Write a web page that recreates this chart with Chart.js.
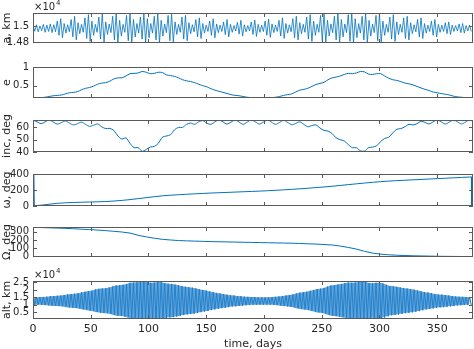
<!DOCTYPE html>
<html>
<head>
<meta charset="utf-8">
<script src="https://cdn.jsdelivr.net/npm/chart.js@4.4.1/dist/chart.umd.min.js"></script>
<style>
  html, body { margin: 0; padding: 0; background: #fff; }
  #wrap { position: relative; width: 474px; height: 349px; }
  #wrap canvas { position: absolute; left: 0; }
</style>
</head>
<body>
<div id="wrap"></div>
<script>
// time axis
const DAY_MAX = 381;
const dayTicks = [0, 50, 100, 150, 200, 250, 300, 350];

// semi-major axis, km: one peak and one trough per 3-day cycle
const CYCLE = 3;
const aHigh = [
  15005, 15015, 15000, 15020, 15010, 15025, 15015,
  15060, 15090, 15030, 15015, 15080, 15120, 15040,
  15020, 15100, 15140, 15060, 15020, 15110, 15150,
  15050, 15025, 15120, 15155, 15070, 15020, 15130,
  15155, 15080, 15030, 15110, 15150, 15090, 15030,
  15120, 15155, 15070, 15025, 15130, 15145, 15050,
  15020, 15110, 15130, 15040, 15015, 15080, 15100,
  15030, 15010, 15060, 15090, 15025, 15010, 15050,
  15080, 15020, 15005, 15045, 15070, 15015, 15005,
  15050, 15075, 15020, 15010, 15060, 15085, 15025,
  15010, 15070, 15100, 15030, 15015, 15090, 15120,
  15040, 15020, 15110, 15140, 15060, 15020, 15130,
  15155, 15070, 15025, 15120, 15155, 15080, 15025,
  15140, 15155, 15090, 15030, 15120, 15155, 15070,
  15025, 15130, 15150, 15060, 15020, 15110, 15140,
  15050, 15020, 15100, 15120, 15040, 15015, 15080,
  15100, 15030, 15010, 15060, 15080, 15020, 15010,
  15040, 15050, 15010, 15005, 15025, 15030, 15005,
  15010
];
const aLow = [
  14935, 14928, 14942, 14922, 14932, 14918, 14928,
  14885, 14855, 14912, 14928, 14865, 14828, 14905,
  14922, 14846, 14810, 14885, 14922, 14838, 14800,
  14895, 14918, 14828, 14795, 14875, 14922, 14818,
  14795, 14865, 14912, 14838, 14800, 14855, 14912,
  14828, 14795, 14875, 14918, 14818, 14805, 14895,
  14922, 14838, 14818, 14905, 14928, 14865, 14846,
  14912, 14932, 14885, 14855, 14918, 14932, 14895,
  14865, 14922, 14938, 14900, 14875, 14928, 14938,
  14895, 14870, 14922, 14932, 14885, 14860, 14918,
  14932, 14875, 14846, 14912, 14928, 14855, 14828,
  14905, 14922, 14838, 14810, 14885, 14922, 14818,
  14795, 14875, 14918, 14828, 14795, 14865, 14918,
  14810, 14795, 14855, 14912, 14828, 14795, 14875,
  14918, 14818, 14800, 14885, 14922, 14838, 14810,
  14895, 14922, 14846, 14828, 14905, 14928, 14865,
  14846, 14912, 14932, 14885, 14865, 14922, 14932,
  14905, 14895, 14932, 14938, 14918, 14912, 14938,
  14932
];

// eccentricity and inclination, sampled every 3.5 days
const SAMPLE_STEP = 3.5;
const ecc = [
  0.18, 0.18, 0.18, 0.19, 0.21, 0.23, 0.24, 0.25, 0.28, 0.31,
  0.32, 0.34, 0.39, 0.43, 0.45, 0.49, 0.54, 0.57, 0.58, 0.62,
  0.68, 0.71, 0.71, 0.76, 0.82, 0.83, 0.84, 0.88, 0.86, 0.82,
  0.83, 0.86, 0.85, 0.79, 0.77, 0.75, 0.71, 0.66, 0.63, 0.61,
  0.58, 0.54, 0.50, 0.47, 0.42, 0.38, 0.35, 0.32, 0.29, 0.26,
  0.24, 0.23, 0.21, 0.19, 0.18, 0.18, 0.17, 0.17, 0.17, 0.18,
  0.19, 0.21, 0.24, 0.26, 0.28, 0.33, 0.38, 0.40, 0.43, 0.48,
  0.53, 0.56, 0.59, 0.66, 0.71, 0.73, 0.76, 0.80, 0.83, 0.82,
  0.84, 0.88, 0.87, 0.81, 0.80, 0.82, 0.82, 0.76, 0.70, 0.66,
  0.64, 0.61, 0.57, 0.55, 0.52, 0.48, 0.44, 0.40, 0.37, 0.33,
  0.31, 0.29, 0.27, 0.25, 0.22, 0.20, 0.19, 0.18, 0.18, 0.19
];
const inc = [
  66, 64.5, 63, 64.5, 66, 64.3, 62.7, 63.8, 65.2, 63.5,
  62, 63, 64.3, 62.5, 60.8, 61.8, 62.8, 60.5, 59, 59.2,
  57.5, 53, 50.5, 51.5, 47, 43.5, 43.6, 40.6, 42, 44,
  44.5, 47, 52, 53, 54, 58, 60, 60, 62.5, 63.5,
  62.5, 64.5, 65.5, 63.5, 62.5, 64.5, 66, 64.5, 62.7, 64.3,
  66, 64.3, 62.5, 64.3, 66, 64.5, 62.7, 64.3, 66, 64.3,
  62.5, 64, 65.8, 64, 62.2, 63.2, 64.5, 62.5, 60.5, 61.5,
  62, 59.5, 57.5, 57, 55, 51.5, 50, 49, 46, 43.5,
  43.5, 41, 40.8, 43.5, 44, 45, 48.5, 51, 52, 55.5,
  58.5, 59, 60.5, 62.5, 62, 63, 65, 64, 62.8, 64.5,
  66, 64.5, 62.7, 64.3, 66, 64.5, 62.8, 64.3, 66, 64.5
];

// argument of perigee, deg (wraps at both ends)
const omegaDays = [0.8, 1.1, 7, 14, 21, 28, 35, 42, 49, 56, 63, 70, 77, 84, 91, 98, 105, 112,
  119, 126, 133, 140, 147, 154, 161, 168, 175, 182, 189, 196, 203, 210, 217, 224, 231,
  238, 245, 252, 259, 266, 273, 280, 287, 294, 301, 308, 315, 322, 329, 336, 343, 350,
  357, 364, 371, 378, 379.6, 379.8];
const omegaVals = [390, 4, 10, 22, 33, 40, 44, 47, 50, 52, 56, 62, 70, 80, 92, 104, 116, 127,
  135, 141, 147, 152, 157, 162, 166, 170, 174, 178, 182, 186, 191, 196, 202, 208, 215,
  222, 230, 238, 247, 257, 267, 277, 287, 296, 304, 311, 317, 322, 327, 332, 337, 342,
  347, 352, 357, 362, 364, 0];

// right ascension of ascending node, deg
const raanDays = [0, 7, 14, 21, 28, 35, 42, 49, 56, 63, 70, 77, 84, 91, 98, 105, 112, 119,
  126, 133, 140, 147, 154, 161, 168, 175, 182, 189, 196, 203, 210, 217, 224, 231, 238,
  245, 252, 259, 266, 273, 280, 287, 294, 301, 308, 315, 322, 329, 336, 343, 350, 357,
  364, 371, 378, 381];
const raanVals = [355, 353, 350, 347, 343, 339, 333, 328, 322, 315, 307, 298, 285, 258, 238,
  222, 208, 200, 193, 189, 186, 183, 180, 178, 176, 174, 172, 170, 168, 166, 164, 162,
  160, 157, 153, 149, 144, 138, 125, 108, 88, 60, 38, 25, 17, 12, 8, 5, 3, 1, -1, -2,
  -3, -4, -5, -5];

// altitude, km: one apogee and one perigee per 3-day cycle
const altHigh = [
  15200, 15150, 15220, 15330, 15480, 15800, 15930, 16100, 16230, 16550,
  17000, 17280, 17450, 17730, 18350, 18780, 19250, 19530, 20300, 20730,
  21050, 21180, 21650, 22380, 23000, 23130, 23450, 24030, 24800, 24930,
  25100, 25380, 25550, 25080, 24800, 24930, 25400, 25230, 24650, 24180,
  24050, 23580, 23150, 22530, 22100, 21780, 21500, 21030, 20450, 19980,
  19550, 18930, 18500, 18030, 17600, 17280, 16850, 16380, 16250, 15930,
  15800, 15480, 15350, 15180, 15200, 15030, 15050, 15030, 15050, 15180,
  15350, 15630, 15950, 16230, 16550, 16980, 17600, 18180, 18500, 18780,
  19400, 19980, 20600, 20880, 21350, 22230, 23000, 23280, 23600, 24030,
  24500, 24930, 24800, 24930, 25400, 25680, 25400, 24630, 24500, 24780,
  24800, 24330, 23450, 22680, 22400, 22080, 21650, 21180, 20900, 20580,
  20150, 19680, 19100, 18480, 18200, 17730, 17300, 16980, 16850, 16530,
  16250, 15930, 15650, 15480, 15350, 15180, 15200
];
const altLow = [
  9980, 10020, 9980, 9860, 9700, 9440, 9280, 9160, 9000, 8740,
  8300, 8040, 7880, 7620, 7040, 6640, 6200, 5940, 5220, 4820,
  4520, 4400, 3960, 3280, 2700, 2580, 2280, 1740, 1020, 900,
  740, 620, 600, 760, 1020, 900, 600, 620, 1160, 1600,
  1720, 2160, 2560, 3140, 3540, 3840, 4100, 4540, 5080, 5520,
  5920, 6500, 6900, 7340, 7740, 8040, 8440, 8880, 9000, 9300,
  9420, 9720, 9840, 10000, 9980, 10140, 10120, 10140, 10120, 9980,
  9840, 9580, 9280, 9020, 8720, 8320, 7740, 7200, 6900, 6640,
  6060, 5520, 4940, 4680, 4240, 3420, 2700, 2440, 2140, 1740,
  1300, 900, 1020, 880, 600, 620, 600, 1180, 1300, 1040,
  1020, 1460, 2280, 3000, 3260, 3560, 3960, 4400, 4660, 4960,
  5360, 5800, 6340, 6920, 7180, 7620, 8020, 8320, 8440, 8740,
  9000, 9300, 9560, 9720, 9840, 10000, 9980
];

// y tick values per panel
const aTicks = [14800, 15000];
const eTicks = [0.5, 1];
const incTicks = [40, 50, 60];
const omegaTicks = [0, 200, 400];
const raanTicks = [0, 100, 200, 300];
const altTicks = [5000, 10000, 15000, 20000, 25000];

const BLUE = '#0072BD';
const DARK_BLUE = '#0a5ea3';
const BAND = 'rgba(40, 135, 210, 0.75)';
const FRAME = '#5a5a5a';

Chart.defaults.font.family = '"DejaVu Sans", sans-serif';
Chart.defaults.font.size = 11;
Chart.defaults.color = '#262626';

function zigzag(highs, lows, step) {
  const pts = [];
  highs.forEach((h, i) => {
    pts.push({ x: i * step, y: h });
    pts.push({ x: i * step + step / 2, y: lows[i] });
  });
  return pts;
}

function sampled(values, step) {
  return values.map((v, i) => ({ x: i * step, y: v }));
}

function paired(days, values) {
  return days.map((d, i) => ({ x: d, y: values[i] }));
}

function lineSet(data, color, width, extra) {
  return Object.assign({
    data: data,
    borderColor: color,
    borderWidth: width,
    pointRadius: 0,
    fill: false,
    clip: 0
  }, extra || {});
}

// box with inward tick marks on all four sides, plus the x10^n multiplier
const boxPlugin = {
  id: 'box',
  afterDatasetsDraw(chart, args, opts) {
    const { ctx, chartArea: a } = chart;
    const x = chart.scales.x, y = chart.scales.y;
    ctx.save();
    ctx.strokeStyle = FRAME;
    ctx.lineWidth = 1;
    ctx.beginPath();
    dayTicks.forEach(v => {
      const px = Math.round(x.getPixelForValue(v)) + 0.5;
      ctx.moveTo(px, a.top); ctx.lineTo(px, a.top + 4);
      ctx.moveTo(px, a.bottom); ctx.lineTo(px, a.bottom - 4);
    });
    y.ticks.forEach(t => {
      const py = Math.round(y.getPixelForValue(t.value)) + 0.5;
      ctx.moveTo(a.left, py); ctx.lineTo(a.left + 4, py);
      ctx.moveTo(a.right, py); ctx.lineTo(a.right - 4, py);
    });
    ctx.stroke();
    ctx.strokeRect(Math.round(a.left) + 0.5, Math.round(a.top) + 0.5,
      Math.round(a.right - a.left) - 1, Math.round(a.bottom - a.top) - 1);
    if (opts.exponent) {
      ctx.fillStyle = '#262626';
      ctx.textBaseline = 'alphabetic';
      ctx.font = '10px "DejaVu Sans"';
      const x0 = a.left + 1, y0 = a.top - 3;
      ctx.fillText('\u00d710', x0, y0);
      const w = ctx.measureText('\u00d710').width;
      ctx.font = '7px "DejaVu Sans"';
      ctx.fillText(opts.exponent, x0 + w + 1, y0 - 5);
    }
    ctx.restore();
  }
};

function tickFormat(scaleBy) {
  return v => String(+(v / scaleBy).toFixed(3));
}

const panels = [
  { top: 13, h: 37, title: 'a, km', min: 14790, max: 15160, ticks: aTicks, scale: 1e4, exp: '4',
    datasets: [lineSet(zigzag(aHigh, aLow, CYCLE), BLUE, 0.8)] },
  { top: 67, h: 38, title: 'e', min: 0.17, max: 1.0, ticks: eTicks, scale: 1,
    datasets: [lineSet(sampled(ecc, SAMPLE_STEP), BLUE, 1, { tension: 0.3 })] },
  { top: 120, h: 39, title: 'inc, deg', min: 40, max: 66, ticks: incTicks, scale: 1,
    datasets: [lineSet(sampled(inc, SAMPLE_STEP), BLUE, 1, { tension: 0.3 })] },
  { top: 174, h: 39, title: '\u03c9, deg', min: 0, max: 400, ticks: omegaTicks, scale: 1,
    datasets: [lineSet(paired(omegaDays, omegaVals), BLUE, 1)] },
  { top: 227, h: 37, title: '\u03a9, deg', min: -10, max: 360, ticks: raanTicks, scale: 1,
    datasets: [lineSet(paired(raanDays, raanVals), BLUE, 1)] },
  { top: 281, h: 38, title: 'alt, km', min: 500, max: 26000, ticks: altTicks, scale: 1e4, exp: '4',
    last: true,
    datasets: [
      // apogee/perigee band, filled to the next dataset
      lineSet(sampled(altHigh, CYCLE), 'rgba(0,0,0,0)', 0, { fill: '+1', backgroundColor: BAND }),
      lineSet(sampled(altLow, CYCLE), 'rgba(0,0,0,0)', 0),
      lineSet(zigzag(altHigh, altLow, CYCLE), DARK_BLUE, 0.9)
    ] }
];

const wrap = document.getElementById('wrap');

panels.forEach(p => {
  const padTop = 13;
  const below = p.last ? 30 : 3;
  const canvas = document.createElement('canvas');
  const height = padTop + p.h + below;
  canvas.width = 474;
  canvas.height = height;
  canvas.style.top = (p.top - padTop) + 'px';
  canvas.style.width = '474px';
  canvas.style.height = height + 'px';
  wrap.appendChild(canvas);

  const xScale = {
    type: 'linear',
    min: 0,
    max: DAY_MAX,
    display: !!p.last,
    afterBuildTicks: s => { s.ticks = dayTicks.map(v => ({ value: v })); },
    grid: { display: false, drawTicks: false },
    border: { display: false },
    ticks: { padding: 4, autoSkip: false, maxRotation: 0 },
    title: { display: true, text: 'time, days', padding: { top: 0, bottom: -2 } }
  };
  if (p.last) xScale.afterFit = s => { s.height = 30; };

  new Chart(canvas.getContext('2d'), {
    type: 'line',
    data: { datasets: p.datasets },
    options: {
      responsive: false,
      animation: false,
      devicePixelRatio: 1,
      layout: { padding: { top: padTop, bottom: p.last ? 0 : below, left: 0, right: 1 } },
      plugins: {
        legend: { display: false },
        tooltip: { enabled: false },
        filler: { propagate: false },
        box: { exponent: p.exp }
      },
      scales: {
        x: xScale,
        y: {
          type: 'linear',
          min: p.min,
          max: p.max,
          afterBuildTicks: s => { s.ticks = p.ticks.map(v => ({ value: v })); },
          afterFit: s => { s.width = 33; },
          grid: { display: false, drawTicks: false },
          border: { display: false },
          ticks: { padding: 4, autoSkip: false, font: { size: 10 }, callback: tickFormat(p.scale) },
          title: { display: true, text: p.title, padding: { top: 1, bottom: 0 } }
        }
      }
    },
    plugins: [boxPlugin]
  });
});
</script>
</body>
</html>
